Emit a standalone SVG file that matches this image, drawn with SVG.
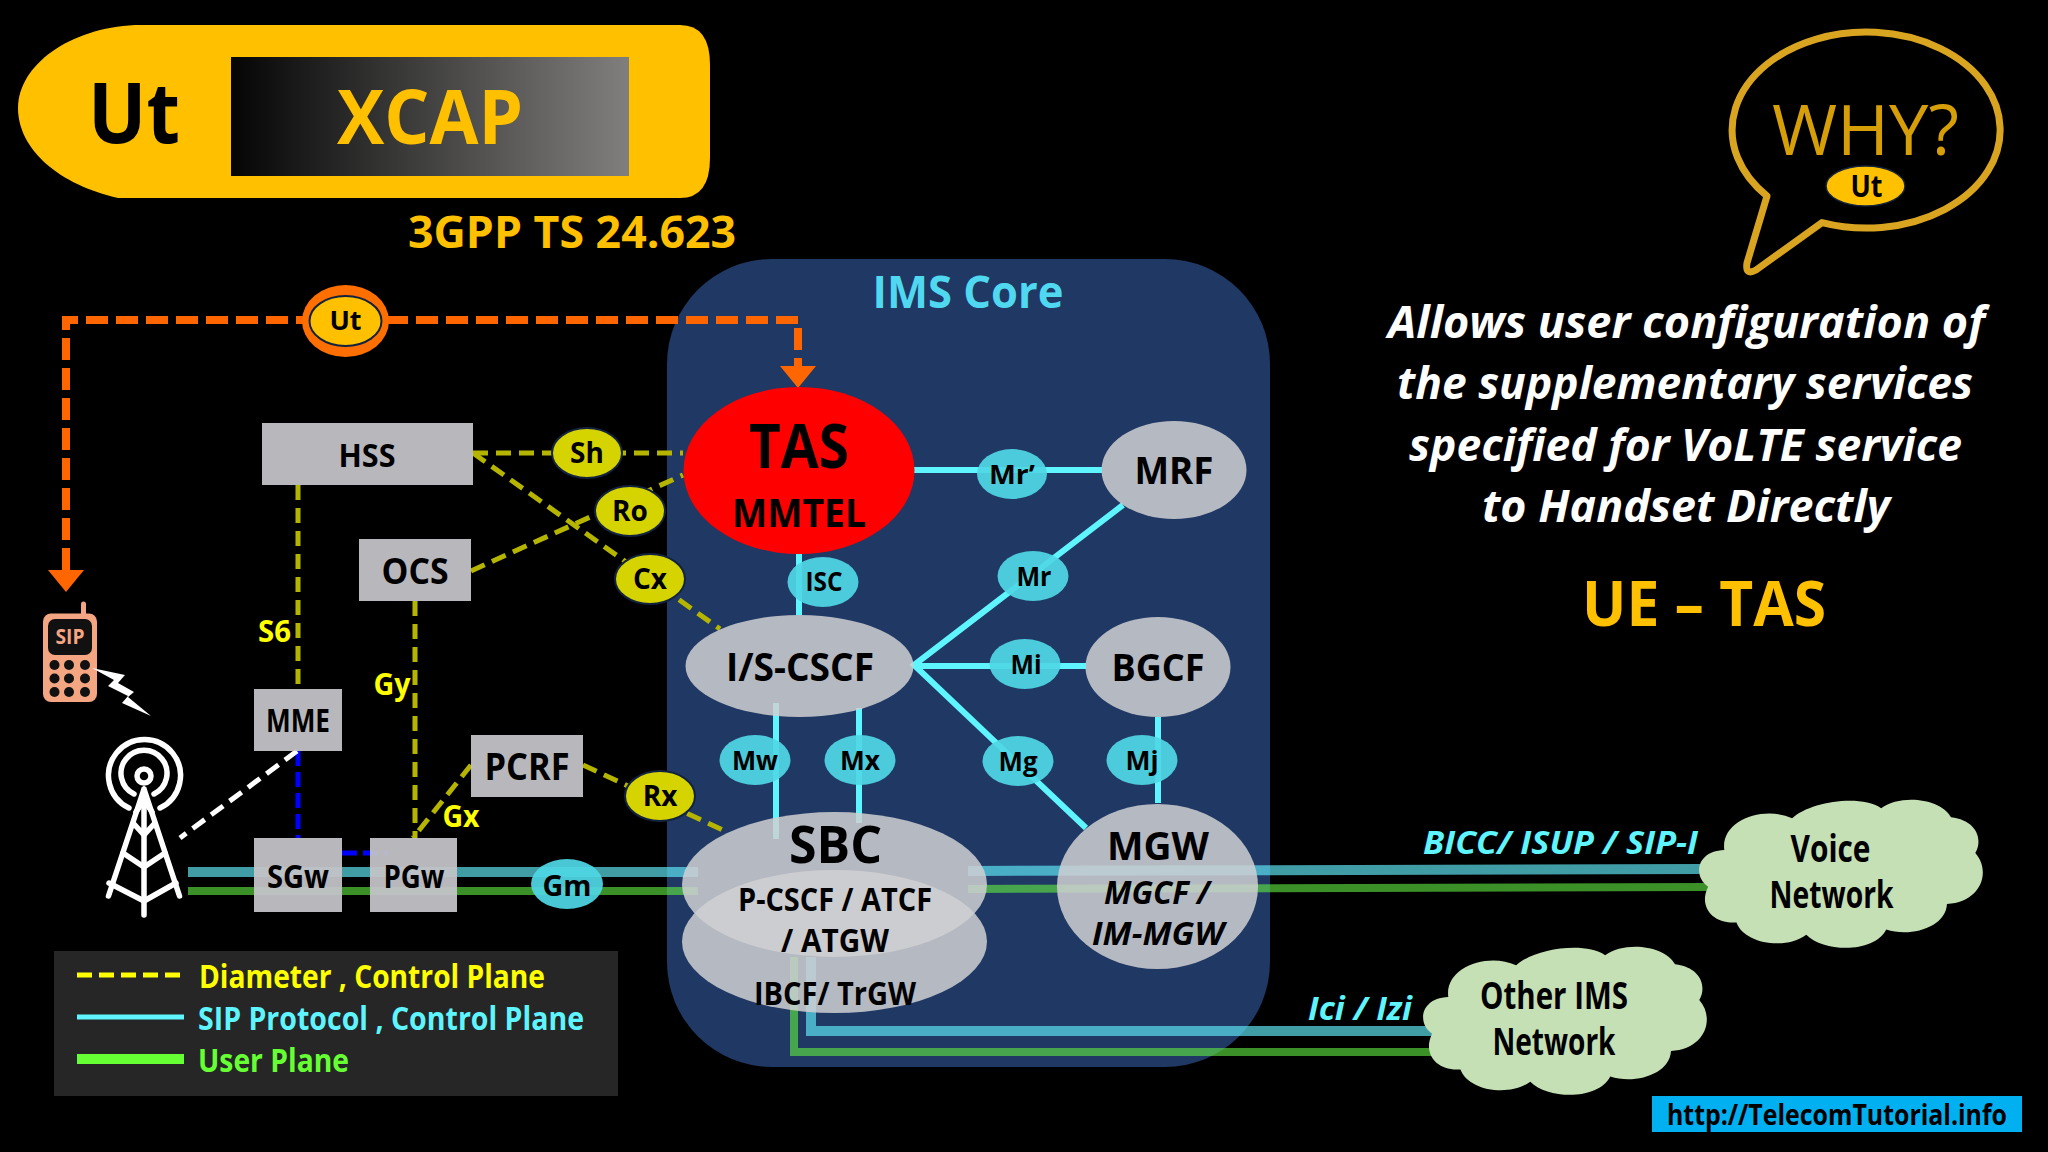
<svg xmlns="http://www.w3.org/2000/svg" width="2048" height="1152" viewBox="0 0 2048 1152">
<defs>
<style>
text{font-family:"Open Sans","Noto Sans","Liberation Sans",sans-serif;font-weight:700;text-anchor:middle;fill:#000}
.it{font-style:italic}
.y{fill:#ffff00}.g{fill:#ffc000}.c{fill:#5ff5ff}.w{fill:#fff}
.box{fill:#c4c4c8;fill-opacity:.94}
.srv{fill:#d0d0d2;fill-opacity:.85}
.gel{fill:#d6d400;stroke:#13233f;stroke-width:2}
.cel{fill:#4fd6e4;fill-opacity:.93}
.cloud{fill:#c5e0b4}
.dia{fill:none;stroke:#b5b500;stroke-width:5;stroke-dasharray:15 8}
.blue{fill:none;stroke:#0000ff;stroke-width:5;stroke-dasharray:15 6}
.sip{fill:none;stroke:#5ff5ff;stroke-width:6}
.t1{fill:none;stroke:#5fe8f5;stroke-opacity:.68;stroke-width:10}
.t2{fill:none;stroke:#5fe83f;stroke-opacity:.62;stroke-width:8}
.tw{fill:none;stroke:#fff;stroke-width:5.500;stroke-linecap:round;stroke-linejoin:round}
</style>
<linearGradient id="gr" x1="0" y1="0" x2="1" y2="0"><stop offset="0" stop-color="#050505"/><stop offset="1" stop-color="#807f7d"/></linearGradient>
<marker id="ah" viewBox="0 0 22 36" refX="0" refY="18" markerWidth="22" markerHeight="36" markerUnits="userSpaceOnUse" orient="auto-start-reverse"><polygon points="0,0 22,18 0,36" fill="#ff6600"/></marker>
<path id="cl" d="M26,49 C22,20 65,5 93,18 C110,2 160,-6 181,8 C200,-6 240,-2 250,17 C275,20 282,38 274,52 C290,70 280,100 246,102 C245,125 210,135 186,127 C175,150 125,150 107,132 C85,148 45,140 38,120 C15,122 0,105 10,85 C-5,75 -2,50 26,49 Z"/>
</defs>
<rect width="2048" height="1152" fill="#000"/>

<g id="title">
<path d="M135,25 H680 Q710,25 710,65 V158 Q710,198 680,198 H118 C60,185 18,150 18,108 C18,65 70,28 135,25 Z" fill="#ffc000"/>
<rect x="231" y="57" width="398" height="119" fill="url(#gr)"/>
<text x="134" y="143" font-size="84" textLength="92" lengthAdjust="spacingAndGlyphs">Ut</text>
<text x="430" y="144" font-size="75" class="g" textLength="186" lengthAdjust="spacingAndGlyphs">XCAP</text>
<text x="572" y="248" font-size="44" class="g" textLength="328" lengthAdjust="spacingAndGlyphs">3GPP TS 24.623</text>
</g>

<g id="ims-core">
<rect x="667" y="259" width="603" height="808" rx="105" ry="105" fill="#203864"/>
<text x="968" y="308" font-size="44" style="fill:#4fd8f0" textLength="191" lengthAdjust="spacingAndGlyphs">IMS Core</text>
</g>

<g id="connectors">
<path d="M66,570 V320 H798 V366" fill="none" stroke="#ff6600" stroke-width="8" stroke-dasharray="22 8" marker-start="url(#ah)" marker-end="url(#ah)"/>
<path class="dia" d="M473,453 H683"/>
<path class="dia" d="M473,453 L720,629"/>
<path class="dia" d="M471,571 L683,475"/>
<path class="dia" d="M298,485 V689"/>
<path class="dia" d="M415,601 V838"/>
<path class="dia" d="M471,765 L413,838"/>
<path class="dia" d="M583,765 L727,832"/>
<path class="blue" d="M298,751 V838"/>
<path class="blue" d="M342,853 H388"/>
<path d="M297,751 L180,838" fill="none" stroke="#fff" stroke-width="5" stroke-dasharray="15 8"/>
<path class="sip" d="M914,470 H1102"/>
<path class="sip" d="M799,554 V615"/>
<path class="sip" d="M1123,505 L914,665 L1086,828"/>
<path class="sip" d="M914,666 H1086"/>
<path class="sip" d="M776,703 V839"/>
<path class="sip" d="M859,708 V823"/>
<path class="sip" d="M1158,717 V803"/>
<path class="t1" d="M188,872 H698"/>
<path class="t2" d="M188,891 H698"/>
<path class="t1" d="M968,871 L1704,869"/>
<path class="t2" d="M968,889 L1708,887"/>
<path class="t1" d="M811,957 V1031 H1436"/>
<path class="t2" d="M794,957 V1052 H1432"/>
</g>

<g id="ut-badge"><ellipse cx="345.500" cy="321" rx="43.500" ry="36" fill="#ff6f00"/><ellipse cx="345.500" cy="321" rx="36" ry="25" fill="#ffc000" stroke="#13233f" stroke-width="2"/><text x="345.500" y="330" font-size="27">Ut</text></g>

<g id="hss"><rect class="box" x="262" y="423" width="211" height="62"/><text x="367" y="467" font-size="32" textLength="57" lengthAdjust="spacingAndGlyphs">HSS</text></g>
<g id="ocs"><rect class="box" x="359" y="539" width="112" height="62"/><text x="415" y="584" font-size="36" textLength="67" lengthAdjust="spacingAndGlyphs">OCS</text></g>
<g id="mme"><rect class="box" x="254" y="689" width="88" height="62"/><text x="298" y="732" font-size="33" textLength="64" lengthAdjust="spacingAndGlyphs">MME</text></g>
<g id="sgw"><rect class="box" x="254" y="838" width="88" height="74"/><text x="298" y="888" font-size="33" textLength="62" lengthAdjust="spacingAndGlyphs">SGw</text></g>
<g id="pgw"><rect class="box" x="370" y="838" width="87" height="74"/><text x="414" y="888" font-size="33" textLength="61" lengthAdjust="spacingAndGlyphs">PGw</text></g>
<g id="pcrf"><rect class="box" x="471" y="735" width="112" height="62"/><text x="527" y="780" font-size="37" textLength="85" lengthAdjust="spacingAndGlyphs">PCRF</text></g>

<g id="sh"><ellipse class="gel" cx="587" cy="453" rx="35" ry="25"/><text x="587" y="463" font-size="28">Sh</text></g>
<g id="ro"><ellipse class="gel" cx="630" cy="511" rx="35" ry="25"/><text x="630" y="521" font-size="28">Ro</text></g>
<g id="cx"><ellipse class="gel" cx="650" cy="579" rx="35" ry="25"/><text x="650" y="589" font-size="28">Cx</text></g>
<g id="rx"><ellipse class="gel" cx="660" cy="796" rx="35" ry="25"/><text x="660" y="806" font-size="28">Rx</text></g>

<g id="tas"><ellipse cx="799" cy="470.500" rx="115.500" ry="83.500" fill="#ff0000"/><text x="799" y="468" font-size="60" textLength="100" lengthAdjust="spacingAndGlyphs">TAS</text><text x="799" y="527" font-size="40" textLength="134" lengthAdjust="spacingAndGlyphs">MMTEL</text></g>
<g id="mrf"><ellipse class="srv" cx="1174" cy="470" rx="72.500" ry="49"/><text x="1174" y="484" font-size="38" textLength="79" lengthAdjust="spacingAndGlyphs">MRF</text></g>
<g id="iscscf"><ellipse class="srv" cx="799.500" cy="666" rx="114" ry="51"/><text x="800" y="681" font-size="39" textLength="148" lengthAdjust="spacingAndGlyphs">I/S-CSCF</text></g>
<g id="bgcf"><ellipse class="srv" cx="1158" cy="667" rx="72.500" ry="50"/><text x="1158" y="681" font-size="38" textLength="93" lengthAdjust="spacingAndGlyphs">BGCF</text></g>

<g id="mr-prime"><ellipse class="cel" cx="1012" cy="474" rx="35" ry="25"/><text x="1012" y="484" font-size="27" textLength="46" lengthAdjust="spacingAndGlyphs">Mr’</text></g>
<g id="isc"><ellipse class="cel" cx="823" cy="582" rx="35.500" ry="25"/><text x="824" y="591" font-size="27" textLength="37" lengthAdjust="spacingAndGlyphs">ISC</text></g>
<g id="mr"><ellipse class="cel" cx="1033" cy="576" rx="35.500" ry="25"/><text x="1034" y="586" font-size="27" textLength="35" lengthAdjust="spacingAndGlyphs">Mr</text></g>
<g id="mi"><ellipse class="cel" cx="1025" cy="664" rx="35.500" ry="25"/><text x="1026" y="674" font-size="27" textLength="31" lengthAdjust="spacingAndGlyphs">Mi</text></g>
<g id="mg"><ellipse class="cel" cx="1018" cy="761" rx="35.500" ry="25"/><text x="1018" y="771" font-size="27" textLength="39" lengthAdjust="spacingAndGlyphs">Mg</text></g>
<g id="mj"><ellipse class="cel" cx="1142" cy="760" rx="35.500" ry="25"/><text x="1142" y="770" font-size="27" textLength="33" lengthAdjust="spacingAndGlyphs">Mj</text></g>
<g id="mw"><ellipse class="cel" cx="755" cy="760" rx="35.500" ry="25"/><text x="755" y="770" font-size="27" textLength="46" lengthAdjust="spacingAndGlyphs">Mw</text></g>
<g id="mx"><ellipse class="cel" cx="860" cy="760" rx="35.500" ry="25"/><text x="860" y="770" font-size="27" textLength="40" lengthAdjust="spacingAndGlyphs">Mx</text></g>
<g id="gm"><ellipse class="cel" cx="567" cy="884" rx="36" ry="25"/><text x="567" y="896" font-size="28" textLength="49" lengthAdjust="spacingAndGlyphs">Gm</text></g>

<g id="sbc">
<ellipse class="srv" cx="834.500" cy="941.500" rx="152.500" ry="71.500"/>
<ellipse class="srv" cx="834.500" cy="884.500" rx="152.500" ry="72.500"/>
<text x="835.500" y="863" font-size="52" textLength="93" lengthAdjust="spacingAndGlyphs">SBC</text>
<text x="835" y="911" font-size="32" textLength="194" lengthAdjust="spacingAndGlyphs">P-CSCF / ATCF</text>
<text x="835" y="952" font-size="32" textLength="108" lengthAdjust="spacingAndGlyphs">/ ATGW</text>
<text x="835" y="1005" font-size="32" textLength="162" lengthAdjust="spacingAndGlyphs">IBCF/ TrGW</text>
</g>
<g id="mgw">
<ellipse class="srv" cx="1157.500" cy="886.500" rx="100.500" ry="82.500"/>
<text x="1158" y="860" font-size="40" textLength="102" lengthAdjust="spacingAndGlyphs">MGW</text>
<text class="it" x="1157" y="904" font-size="33" textLength="106" lengthAdjust="spacingAndGlyphs">MGCF /</text>
<text class="it" x="1158" y="945" font-size="33" textLength="132" lengthAdjust="spacingAndGlyphs">IM-MGW</text>
</g>

<g id="voice-network"><use href="#cl" class="cloud" transform="translate(1698,800) scale(1.012,1.02)"/><text x="1830.500" y="862" font-size="37" textLength="80" lengthAdjust="spacingAndGlyphs">Voice</text><text x="1831.500" y="908" font-size="37" textLength="124" lengthAdjust="spacingAndGlyphs">Network</text></g>
<g id="other-ims-network"><use href="#cl" class="cloud" transform="translate(1422,947) scale(1.012,1.02)"/><text x="1554" y="1009" font-size="37" textLength="148" lengthAdjust="spacingAndGlyphs">Other IMS</text><text x="1554" y="1055" font-size="37" textLength="123" lengthAdjust="spacingAndGlyphs">Network</text></g>

<g id="labels">
<text class="it c" x="1560.500" y="854" font-size="33" textLength="275" lengthAdjust="spacingAndGlyphs">BICC/ ISUP / SIP-I</text>
<text class="it c" x="1360" y="1020" font-size="33" textLength="104" lengthAdjust="spacingAndGlyphs">Ici / Izi</text>
<text class="y" x="274.500" y="642" font-size="30" textLength="33" lengthAdjust="spacingAndGlyphs">S6</text>
<text class="y" x="392" y="695" font-size="30" textLength="37" lengthAdjust="spacingAndGlyphs">Gy</text>
<text class="y" x="461" y="827" font-size="30" textLength="37" lengthAdjust="spacingAndGlyphs">Gx</text>
</g>

<g id="phone">
<path d="M83.500,604 V616" stroke="#f4a582" stroke-width="5" stroke-linecap="round" fill="none"/>
<rect x="43" y="613.500" width="54" height="88.500" rx="8" fill="#f4a582"/>
<rect x="48" y="619" width="44" height="36" rx="7" fill="#111"/>
<text x="70" y="644" font-size="22" style="fill:#f4a582" textLength="29" lengthAdjust="spacingAndGlyphs">SIP</text>
<g fill="#111"><circle cx="54.500" cy="665" r="5"/><circle cx="69" cy="665" r="5"/><circle cx="85" cy="665" r="5"/><circle cx="54.500" cy="678.500" r="5"/><circle cx="69" cy="678.500" r="5"/><circle cx="85" cy="678.500" r="5"/><circle cx="54.500" cy="692" r="5"/><circle cx="69" cy="692" r="5"/><circle cx="85" cy="692" r="5"/></g>
<polygon points="92,668 125,675 118,683 134,692 128,697 151,716 122,703 128,696 108,686 114,680" fill="#fff"/>
</g>

<g id="tower">
<circle cx="144" cy="776" r="7" class="tw"/>
<path class="tw" d="M134,794 A23,23 0 1 1 154,794"/>
<path class="tw" d="M129,808 A36,36 0 1 1 160,808"/>
<path class="tw" d="M144,789 L108.500,896 M144,789 L179.500,896 M144,789 V915"/>
<path class="tw" d="M134,824 L144,835 L154,824 M123,853 L144,867 L165,853 M109,883 L144,901 L176,883 M136,812 L144,800 L152,812"/>
</g>

<g id="legend">
<rect x="54" y="951" width="564" height="145" fill="#262626"/>
<path d="M77,975 H184" fill="none" stroke="#ffff00" stroke-width="5" stroke-dasharray="15 7"/>
<path d="M77,1017 H184" fill="none" stroke="#5ff5ff" stroke-width="5"/>
<path d="M77,1059 H184" fill="none" stroke="#66ff33" stroke-width="10"/>
<text class="y" x="372" y="988" font-size="32" textLength="346" lengthAdjust="spacingAndGlyphs">Diameter , Control Plane</text>
<text class="c" x="391" y="1030" font-size="32" textLength="386" lengthAdjust="spacingAndGlyphs">SIP Protocol , Control Plane</text>
<text x="273.500" y="1072" font-size="32" style="fill:#66ff33" textLength="151" lengthAdjust="spacingAndGlyphs">User Plane</text>
</g>

<g id="why">
<path d="M1767,196 L1747,263 Q1745,276 1756,270 L1822,222.600 A134,98 0 1 0 1767,196 Z" fill="none" stroke="#d9a521" stroke-width="7" stroke-linejoin="round"/>
<text x="1865.500" y="155" font-size="70" style="font-weight:400;fill:#d79f07" textLength="187" lengthAdjust="spacingAndGlyphs">WHY?</text>
<ellipse cx="1865.500" cy="186" rx="39.500" ry="20" fill="#ffc000" stroke="#13233f" stroke-width="1.500"/>
<text x="1866.500" y="197" font-size="30" textLength="32" lengthAdjust="spacingAndGlyphs">Ut</text>
</g>

<g id="description">
<text class="it w" x="1686.500" y="338" font-size="44" textLength="597" lengthAdjust="spacingAndGlyphs">Allows user configuration of</text>
<text class="it w" x="1685" y="399" font-size="44" textLength="576" lengthAdjust="spacingAndGlyphs">the supplementary services</text>
<text class="it w" x="1685.500" y="461" font-size="44" textLength="553" lengthAdjust="spacingAndGlyphs">specified for VoLTE service</text>
<text class="it w" x="1686" y="522" font-size="44" textLength="408" lengthAdjust="spacingAndGlyphs">to Handset Directly</text>
<text class="g" x="1704" y="626" font-size="62" textLength="244" lengthAdjust="spacingAndGlyphs">UE – TAS</text>
</g>

<g id="url"><rect x="1652" y="1096" width="370" height="36" fill="#00b0f0"/><text x="1837" y="1125" font-size="28" textLength="340" lengthAdjust="spacingAndGlyphs">http://TelecomTutorial.info</text></g>
</svg>
